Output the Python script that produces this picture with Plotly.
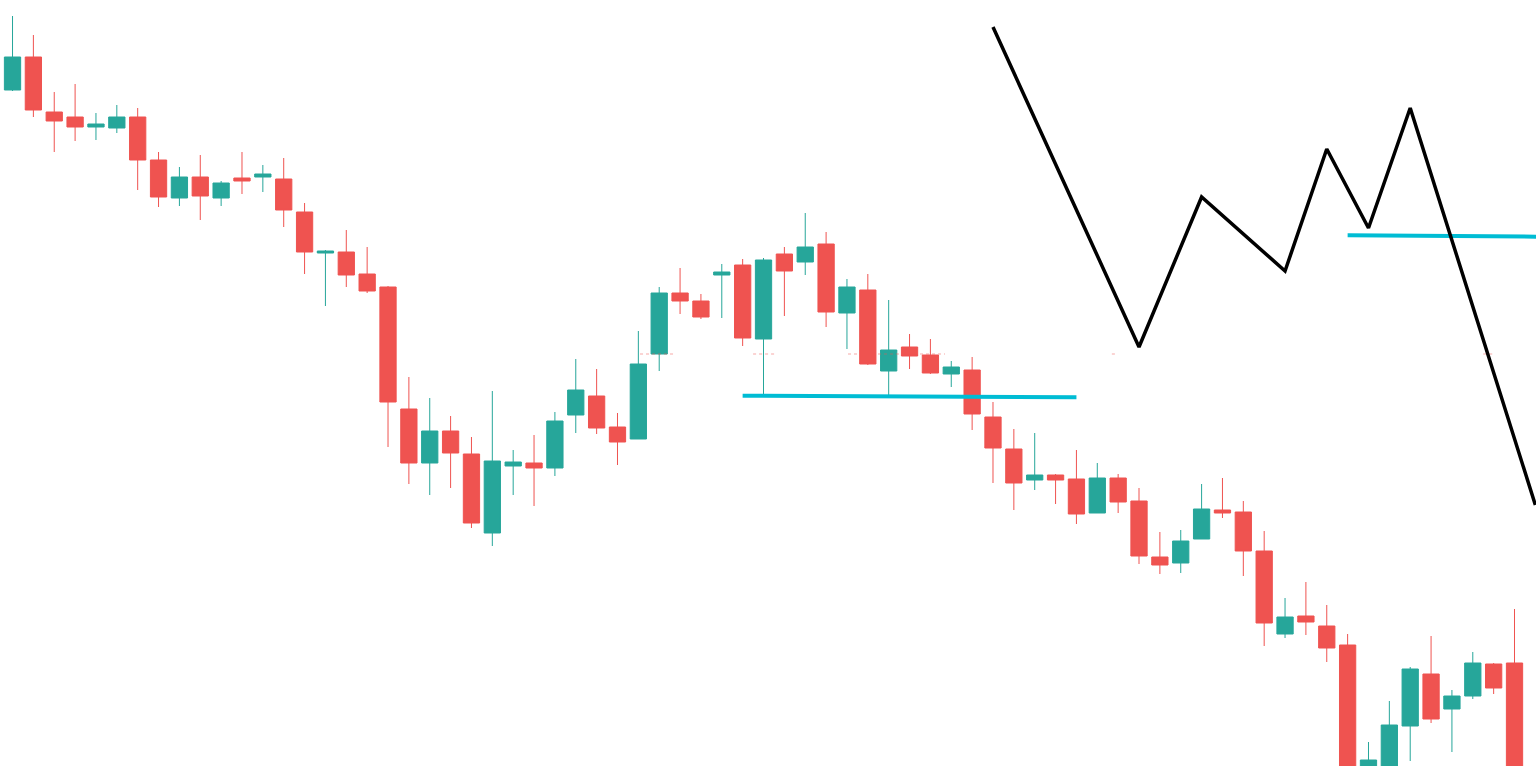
import plotly.graph_objects as go

# Candle data (price units), one entry per session
opens  = [710, 743, 688, 683, 673, 672, 683, 640, 602, 623,
          602, 622, 623, 621, 588, 547, 548, 526, 513, 391,
          337, 369, 346, 267, 334, 337, 332, 385, 404, 373,
          361, 446, 507, 499, 525, 535, 461, 546, 538, 556,
          487, 510, 429, 453, 445, 426, 430, 383, 351, 320,
          325, 321, 287, 322, 299, 243, 237, 261, 290, 288,
          249, 166, 184, 174, 155, 18, 28, 74, 126, 91,
          104, 136, 137]
highs  = [784, 765, 708, 716, 687, 695, 692, 648, 633, 645,
          619, 648, 635, 642, 597, 550, 570, 553, 514, 423,
          402, 384, 363, 409, 350, 365, 388, 441, 431, 387,
          469, 513, 532, 506, 536, 541, 542, 553, 587, 568,
          521, 526, 500, 466, 461, 439, 443, 398, 371, 367,
          326, 350, 337, 326, 312, 268, 270, 316, 322, 299,
          269, 202, 218, 195, 166, 58, 99, 133, 164, 110,
          148, 137, 191]
lows   = [709, 683, 648, 659, 660, 667, 610, 593, 594, 580,
          594, 606, 608, 573, 526, 494, 513, 507, 353, 316,
          305, 312, 272, 254, 305, 294, 324, 367, 366, 335,
          361, 429, 486, 481, 482, 454, 406, 484, 525, 473,
          451, 435, 405, 431, 426, 413, 370, 317, 290, 310,
          296, 276, 287, 287, 236, 226, 227, 261, 282, 224,
          154, 162, 165, 138, 10, 8, 22, 39, 77, 48,
          101, 106, 10]
closes = [743, 690, 679, 673, 676, 683, 640, 603, 623, 604,
          617, 619, 626, 590, 548, 549, 525, 509, 398, 337,
          369, 347, 277, 339, 338, 332, 379, 410, 372, 358,
          436, 507, 499, 483, 528, 462, 540, 529, 553, 488,
          513, 436, 450, 444, 427, 433, 386, 352, 317, 325,
          320, 286, 322, 298, 244, 235, 259, 291, 287, 249,
          177, 183, 178, 152, 20, 40, 75, 131, 81, 104,
          137, 112, 20]
sessions = list(range(len(opens)))

# Hand-drawn swing path (session index, price)
swing_x = [47, 54, 57, 61, 63, 65, 67, 73]
swing_y = [773, 453, 603, 529, 651, 572, 692, 295]

# Horizontal support levels
level1_x = [35, 51]
level1_y = [404.3, 402.7]
level2_x = [64, 73.1]
level2_y = [564.7, 563.3]

# Faint dotted reference level segments
dotted_level = 446
dotted_segments = [(30.08, 31.71), (35.5, 36.55), (40.05, 44.7), (52.7, 52.85), (70.5, 70.97)]

fig = go.Figure()

for x0, x1 in dotted_segments:
    fig.add_trace(go.Scatter(
        x=[x0, x1], y=[dotted_level, dotted_level], mode="lines",
        line=dict(color="rgba(239,83,80,0.5)", width=1, dash="dot"),
        hoverinfo="skip", showlegend=False))

fig.add_trace(go.Candlestick(
    x=sessions, open=opens, high=highs, low=lows, close=closes,
    increasing=dict(line=dict(color="#26a69a", width=1), fillcolor="#26a69a"),
    decreasing=dict(line=dict(color="#ef5350", width=1), fillcolor="#ef5350"),
    whiskerwidth=0, showlegend=False))

fig.add_trace(go.Scatter(
    x=level1_x, y=level1_y, mode="lines",
    line=dict(color="#00bcd4", width=4), hoverinfo="skip", showlegend=False))
fig.add_trace(go.Scatter(
    x=level2_x, y=level2_y, mode="lines",
    line=dict(color="#00bcd4", width=4), hoverinfo="skip", showlegend=False))

fig.add_trace(go.Scatter(
    x=swing_x, y=swing_y, mode="lines",
    line=dict(color="#000000", width=3.5), hoverinfo="skip", showlegend=False))

fig.update_layout(
    width=1536, height=766,
    margin=dict(l=0, r=0, t=0, b=0),
    paper_bgcolor="white", plot_bgcolor="white",
    boxgap=0.22, boxgroupgap=0,
    showlegend=False,
    xaxis=dict(range=[-0.6, 73.03], visible=False, rangeslider=dict(visible=False),
               showgrid=False, zeroline=False),
    yaxis=dict(range=[34, 800], visible=False, showgrid=False, zeroline=False),
)

fig.write_html("out.html", config={"displayModeBar": False},
               post_script="document.body.style.margin='0';document.body.style.overflow='hidden';")
